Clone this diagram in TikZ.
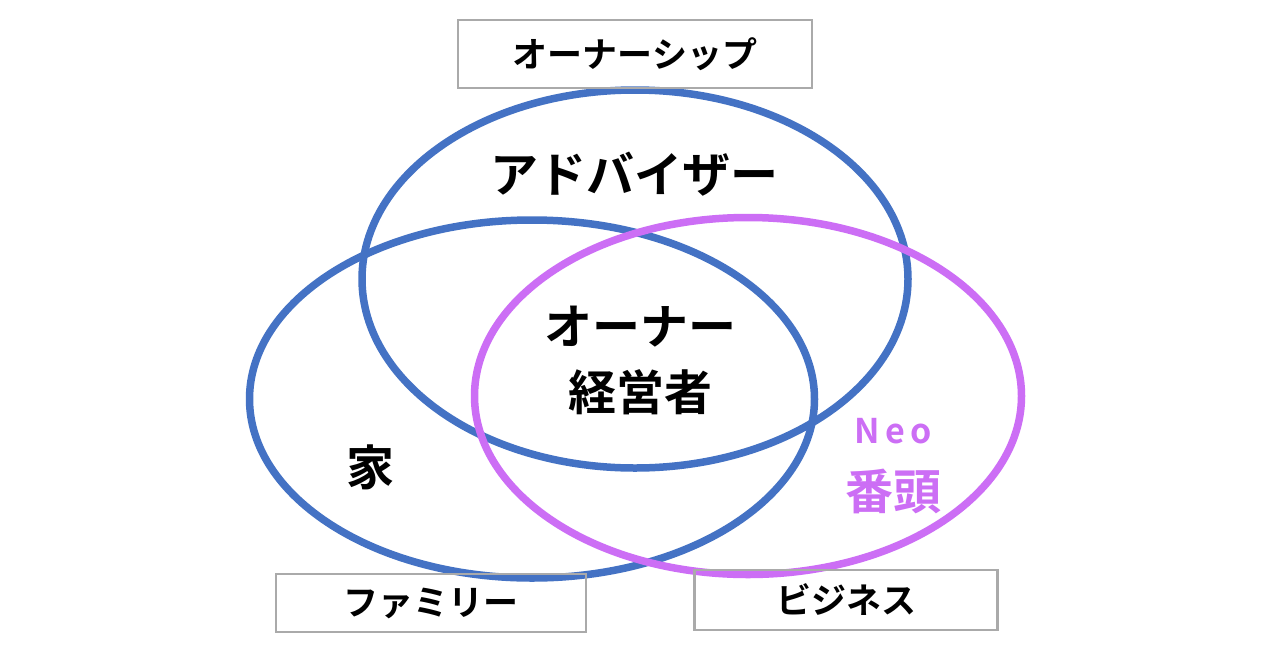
\documentclass[tikz,border=0pt]{standalone}
\usepackage{fontspec}
\newfontfamily\jp{Noto Sans CJK JP}[BoldFont={Noto Sans CJK JP Bold}]
\usetikzlibrary{shapes.geometric}
\begin{document}
\begin{tikzpicture}[x=1pt,y=-1pt,
  ring/.style={draw,ellipse,line width=7.5pt,inner sep=0pt},
  bluering/.style={ring,draw={rgb,255:red,68;green,114;blue,196}},
  purplering/.style={ring,draw={rgb,255:red,204;green,110;blue,245}},
  labelbox/.style={draw={rgb,255:red,170;green,170;blue,170},line width=2.5pt,inner sep=0pt,font=\jp\bfseries\fontsize{35}{38}\selectfont},
  big/.style={font=\jp\bfseries\fontsize{48}{66}\selectfont,align=center},
  pinktext/.style={text={rgb,255:red,204;green,110;blue,245}}]
\useasboundingbox[fill=white] (0,0) rectangle (1280,670);
\node[bluering,minimum width=546pt,minimum height=378pt] (own) at (635,279) {};
\node[bluering,minimum width=565pt,minimum height=358pt] (fam) at (532,399) {};
\node[purplering,minimum width=547pt,minimum height=357pt] (bus) at (748,396) {};
\node[labelbox,minimum width=354pt,minimum height=68pt] (ownbox) at (635,54) {オーナーシップ};
\node[labelbox,minimum width=310pt,minimum height=58pt] (fambox) at (431,603) {ファミリー};
\node[labelbox,minimum width=303pt,minimum height=60pt] (busbox) at (846,600) {ビジネス};
\node[big] (adv) at (634,174) {アドバイザー};
\node[big] (owner) at (640,360) {オーナー\\経営者};
\node[big] (ie) at (370,467) {家};
\node[big,pinktext] (neo) at (893,466) {{\fontsize{34}{36}\selectfont N\,e\,o}\\番頭};
\end{tikzpicture}
\end{document}
